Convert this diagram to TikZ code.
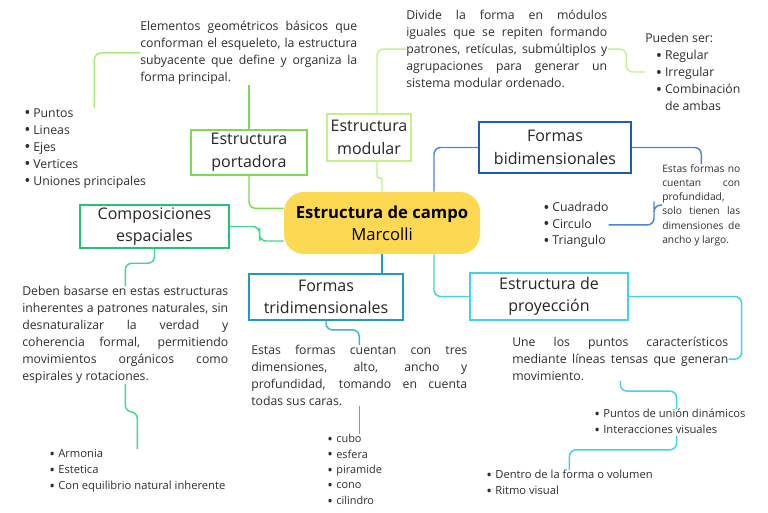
\documentclass[tikz,border=0pt]{standalone}
\usepackage{fontspec}
\setmainfont{Open Sans}
\usetikzlibrary{calc,backgrounds}
\definecolor{cport}{HTML}{7ED957}
\definecolor{lport}{HTML}{A6E87A}
\definecolor{cmod}{HTML}{C5F08A}
\definecolor{cbid}{HTML}{1F5AB4}
\definecolor{lbid}{HTML}{4A86D8}
\definecolor{ccmp}{HTML}{22C378}
\definecolor{lcmp}{HTML}{3FD98E}
\definecolor{ctri}{HTML}{1E9CC0}
\definecolor{ltri}{HTML}{3CB4D4}
\definecolor{cpro}{HTML}{40D2EA}
\definecolor{cyel}{HTML}{FDD853}
\definecolor{ctxt}{HTML}{2E2E2E}
\newcommand{\itm}[1]{\makebox[6.8pt][l]{\raisebox{-0.28ex}{\scalebox{1.35}{•}}}#1}
\hyphenpenalty=10000
\tolerance=10000
\hbadness=10000
\begin{document}
\begin{tikzpicture}[x=0.75pt,y=-0.75pt,
    box/.style={draw,line width=1.4pt,fill=white,align=center,inner sep=2pt,
      text=black!85,font=\fontsize{12}{17}\selectfont},
    txt/.style={anchor=north west,inner sep=0pt,align=justify,text=ctxt,
      font=\fontsize{9.2}{12.75}\selectfont},
    lst/.style={anchor=north west,inner sep=0pt,align=left,text=ctxt,
      font=\fontsize{9.2}{12.75}\selectfont},
    lsts/.style={lst,font=\fontsize{8.4}{12}\selectfont},
    link/.style={line width=1.1pt,rounded corners=5pt}]
  \useasboundingbox (0,0) rectangle (768,512);
  % central topic
  \node[fill=cyel,rounded corners=15pt,minimum width=147pt,minimum height=46.5pt,
    align=center,font=\fontsize{12.5}{16.5}\selectfont] (cen) at (382,223)
    {{\bfseries Estructura de campo}\\Marcolli};
  % main branches
  \def \Boxes{
    port/249/152.5/87/33.75/cport/{Estructura\\portadora},
    mod/369/137.5/63/35.25/cmod/{Estructura\\modular},
    bid/555/147.5/114/38.25/cbid/{Formas\\bidimensionales},
    cmp/154.5/226.5/111.75/32.25/ccmp/{Composiciones\\espaciales},
    tri/326/297/115.5/34.5/ctri/{Formas\\tridimensionales},
    pro/549/296.5/118.5/35.25/cpro/{Estructura de\\proyección}}
  \foreach \id / \x / \y / \w / \h / \col / \lb in \Boxes{
    \node[box,draw=\col,minimum width=\w pt,minimum height=\h pt] (\id) at (\x,\y) {\lb};
  }
  % texts
  \node[txt,text width=162.75pt] (ptx) at (140,21)
    {Elementos geométricos básicos que\linebreak conforman el esqueleto, la estructura\linebreak
     subyacente que define y organiza la\linebreak forma principal.};
  \node[txt,text width=150.75pt] (mtx) at (406,10)
    {Divide la forma en módulos\linebreak iguales que se repiten formando\linebreak
     patrones, retículas, submúltiplos y\linebreak agrupaciones para generar un\linebreak
     sistema modular ordenado.};
  \node[txt,text width=58.5pt,font=\fontsize{7.7}{10.7}\selectfont] (bsm) at (662,164)
    {Estas formas no\linebreak cuentan con\linebreak profundidad,\\ solo tienen las\linebreak
     dimensiones de\linebreak ancho y largo.};
  \node[txt,text width=154.5pt] (ctx) at (22,286)
    {Deben basarse en estas estructuras\linebreak inherentes a patrones naturales, sin\linebreak
     desnaturalizar la verdad y\linebreak coherencia formal, permitiendo\linebreak
     movimientos orgánicos como\linebreak espirales y rotaciones.};
  \node[txt,text width=162pt] (ttx) at (251,345)
    {Estas formas cuentan con tres\linebreak dimensiones, alto, ancho y\linebreak
     profundidad, tomando en cuenta\linebreak todas sus caras.};
  \node[txt,text width=162pt] (rtx) at (512,337)
    {Une los puntos característicos\linebreak mediante líneas tensas que generan\linebreak
     movimiento.};
  % lists
  \node[lst] (pun) at (24,108)
    {\itm{Puntos}\\\itm{Lineas}\\\itm{Ejes}\\\itm{Vertices}\\\itm{Uniones principales}};
  \node[lst] (pue) at (645,33)
    {Pueden ser:\\\hspace*{8pt}\itm{Regular}\\\hspace*{8pt}\itm{Irregular}\\
     \hspace*{8pt}\itm{Combinación}\\\hspace*{14.8pt}de ambas};
  \node[lst,font=\fontsize{9.2}{12.4}\selectfont] (cua) at (543,202)
    {\itm{Cuadrado}\\\itm{Circulo}\\\itm{Triangulo}};
  \node[lsts] (arm) at (49,449)
    {\itm{Armonia}\\\itm{Estetica}\\\itm{Con equilibrio natural inherente}};
  \node[lsts,font=\fontsize{8.2}{11.6}\selectfont] (cub) at (327,434)
    {\itm{cubo}\\\itm{esfera}\\\itm{piramide}\\\itm{cono}\\\itm{cilindro}};
  \node[lsts] (uni) at (594,409)
    {\itm{Puntos de unión dinámicos}\\\itm{Interacciones visuales}};
  \node[lsts] (den) at (486,470)
    {\itm{Dentro de la forma o volumen}\\\itm{Ritmo visual}};
  % connectors
  \begin{scope}[on background layer]
    \draw[link,cport] (port.south) |- ([yshift=11pt]cen.west);
    \draw[link,cport] (port.north) -- (port.north |- ptx.south);
    \draw[link,lport] (ptx.west) -| ([xshift=7pt]pun.north);
    \draw[link,cmod,rounded corners=2pt] ([xshift=6pt]mod.south) -- ++(0,16) -| (cen.north);
    \draw[link,cmod] ([xshift=6pt]mod.north) |- (mtx.west);
    \draw[link,cmod] (mtx.east) -| ($(mtx.east)!0.5!(pue.west)$) |- (pue.west);
    \draw[link,lbid] ([xshift=39pt]cen.north) |- (bid.west);
    \draw[link,lbid] (bid.east) -| (bsm.north);
    \draw[link,lbid] (cua.east) -| ($(cua.east)!0.85!(bsm.west)$) |- (bsm.west);
    \draw[link,lcmp] (cmp.east) -| ($(cmp.east)!0.55!([yshift=-13.5pt]cen.west)$)
      |- ([yshift=-13.5pt]cen.west);
    \draw[link,lcmp] (cmp.south) -- ++(0,14) -| (ctx.north);
    \draw[link,lcmp] (ctx.south) -- ++(0,28) -| (arm.north);
    \draw[link,ctri] (cen.south) -- (cen.south |- tri.north);
    \draw[link,ltri] (tri.south) -- ++(0,9) -| (ttx.north);
    \draw[link,ltri] (ttx.south) -- (ttx.south |- cub.north);
    \draw[link,cpro] ([xshift=39pt]cen.south) |- (pro.west);
    \draw[link,cpro] (pro.east) -| ([xshift=9.75pt]rtx.east) |- (rtx.east);
    \draw[link,cpro] (rtx.south) -- ++(0,10) -| ([xshift=5pt]uni.north);
    \draw[link,cpro] ([xshift=5pt]uni.south) -- ++(0,14) -| (den.north);
  \end{scope}
\end{tikzpicture}
\end{document}
